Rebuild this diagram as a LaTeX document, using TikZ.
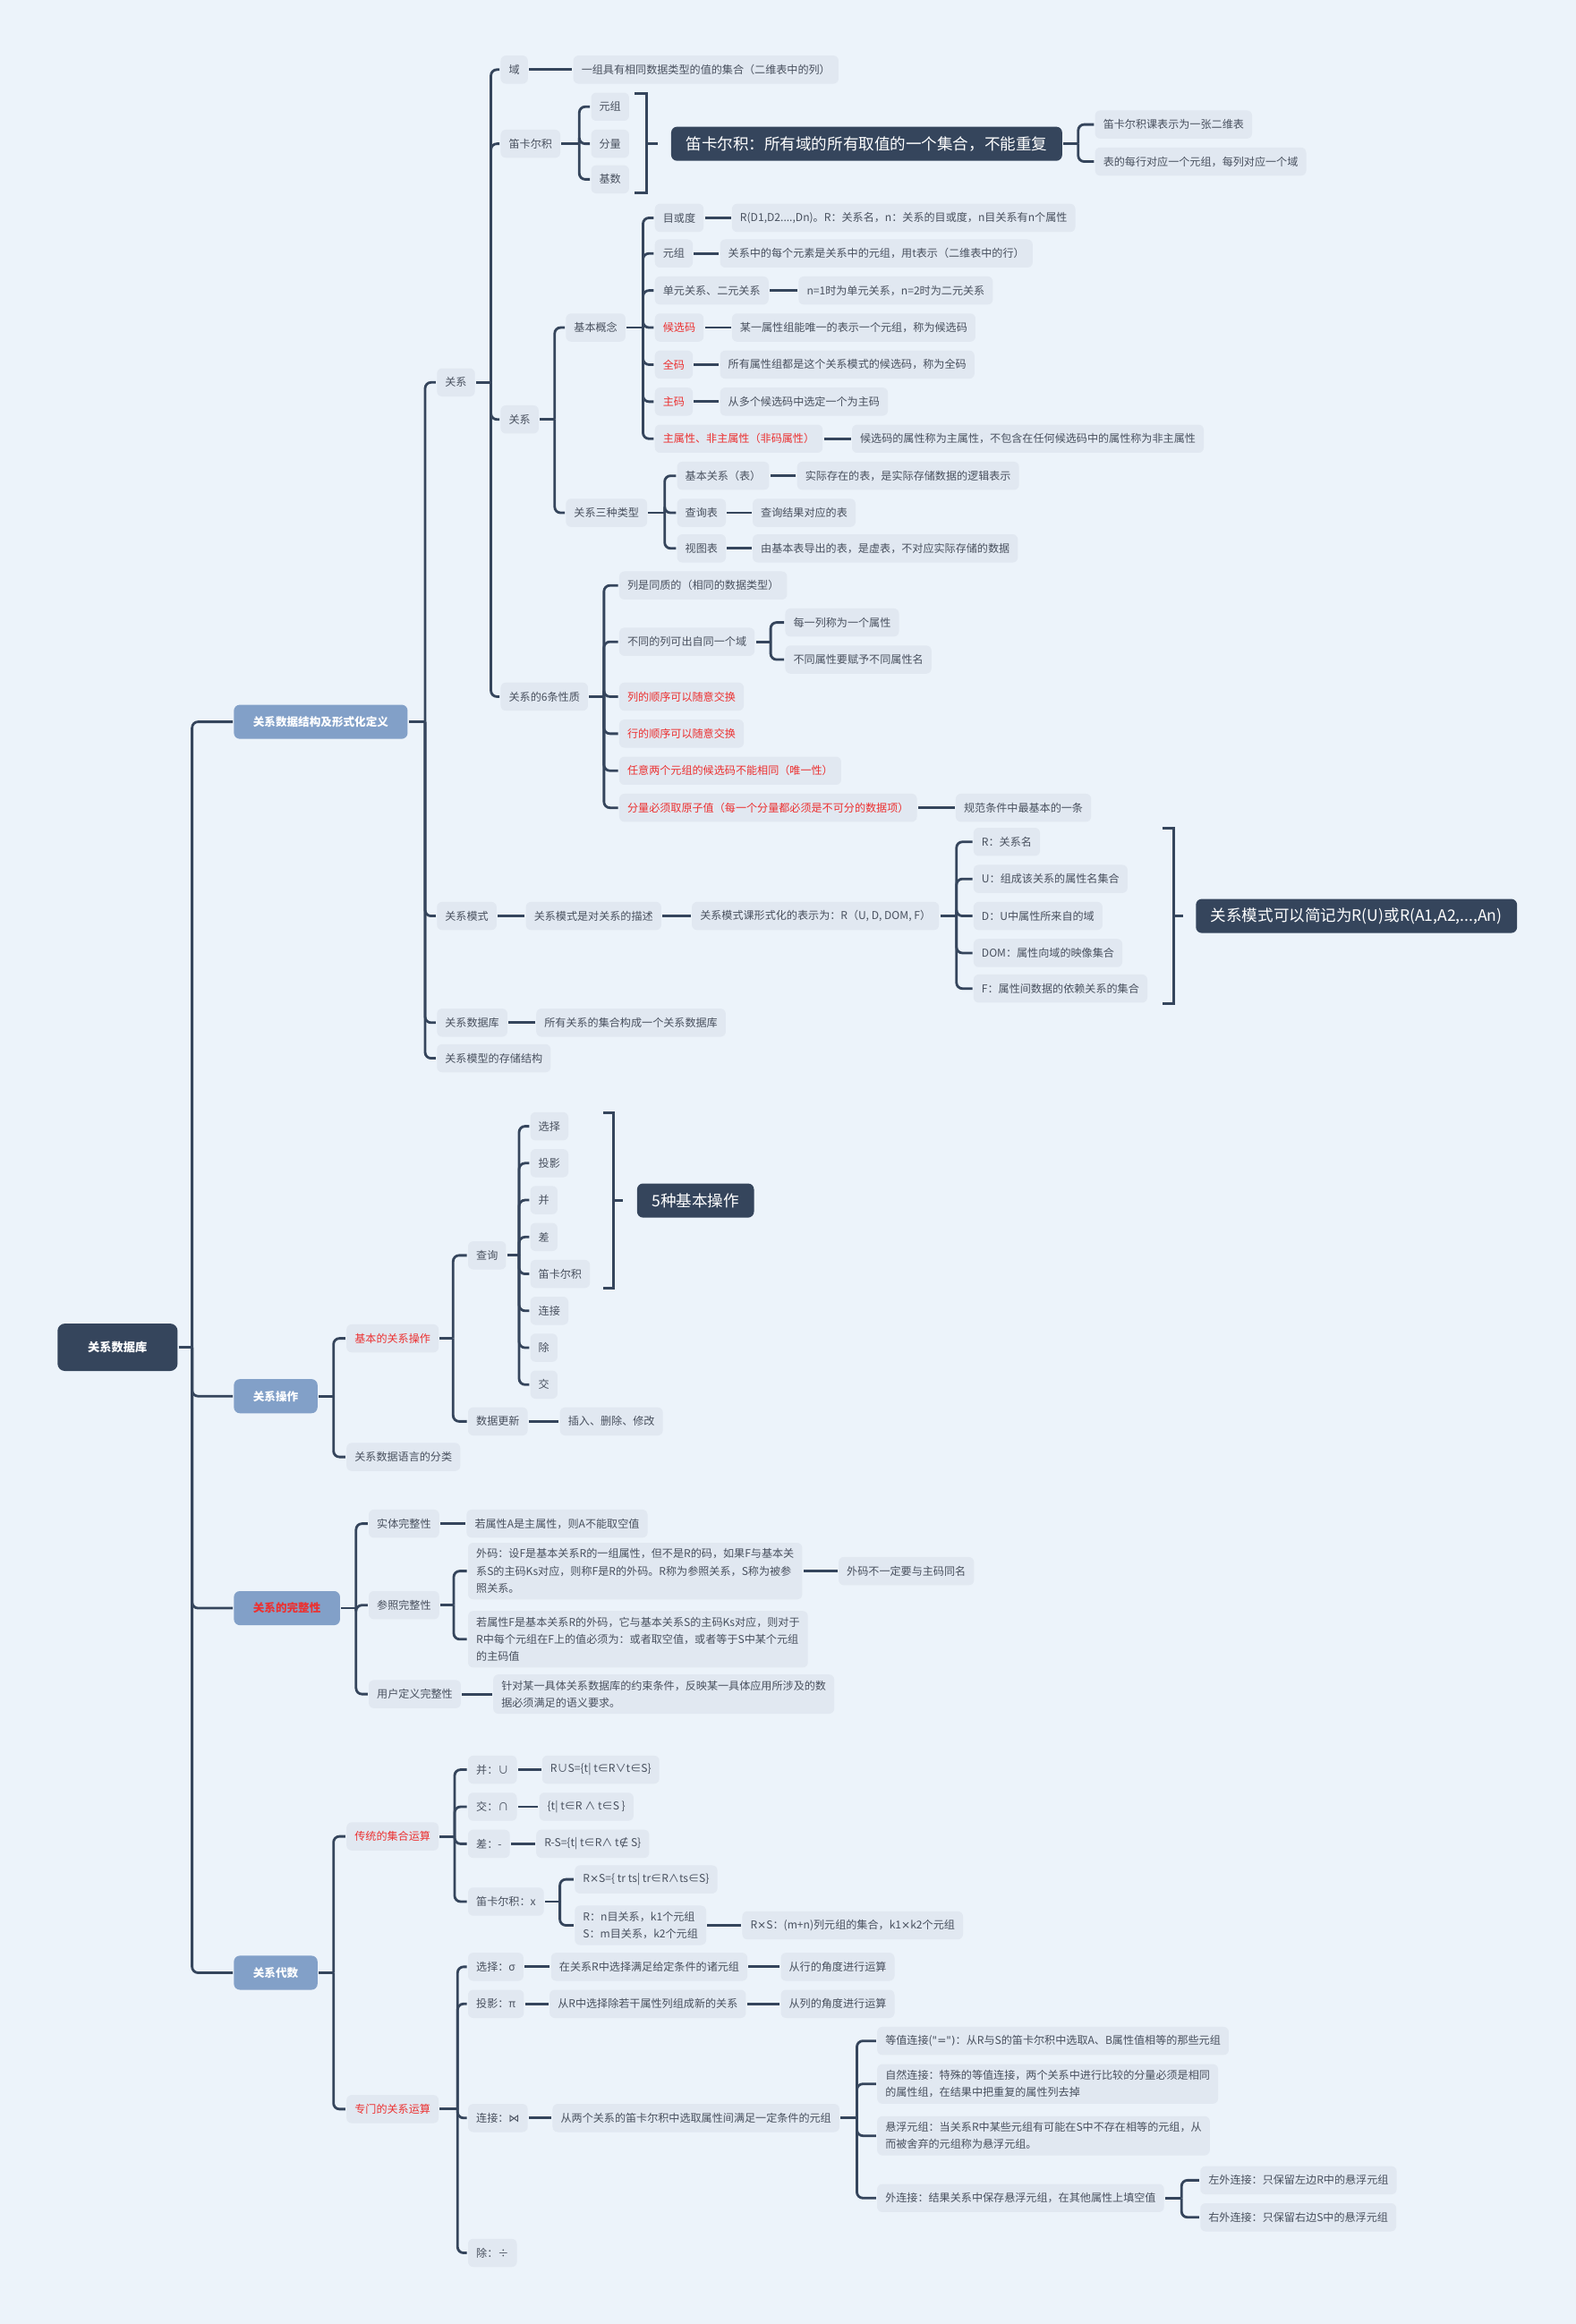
\documentclass[tikz,border=0pt]{standalone}
\usepackage{fontspec}
\setmainfont{Noto Sans CJK SC}
\newfontfamily\symfont{DejaVu Sans}

\definecolor{bg}{RGB}{236,243,250}
\definecolor{leaf}{RGB}{225,232,241}
\definecolor{ink}{RGB}{72,80,94}
\definecolor{navy}{RGB}{53,69,92}
\definecolor{steel}{RGB}{130,160,200}
\definecolor{hot}{RGB}{236,48,48}

\tikzset{
every picture/.style={
line width=1.6pt
},
leafbox/.style={fill=leaf, text=ink, rounded corners=3.5pt, inner xsep=5.5pt, inner ysep=4pt,
  minimum height=19pt, anchor=west, align=left, font=\fontsize{7.3}{11.7}\selectfont},
hotbox/.style={leafbox, text=hot},
topic/.style={fill=steel, text=white, rounded corners=4pt, inner xsep=13pt, minimum height=23pt,
  anchor=west, font=\bfseries\fontsize{7.6}{9}\selectfont},
rootbox/.style={fill=navy, text=white, rounded corners=5pt, minimum width=81pt, minimum height=32pt,
  anchor=west, font=\bfseries\fontsize{8}{9}\selectfont},
summary/.style={fill=navy, text=white, rounded corners=4pt, inner xsep=10pt, minimum height=23pt,
  anchor=west, font=\fontsize{10.6}{12}\selectfont},
link/.style={draw=navy, line width=1.7pt, rounded corners=4pt},
}

% parent, trunk offset, children
\newcommand\fanout[3]{%
  \draw[link] (#1.east) -- ([xshift=#2]#1.east);
  \foreach \kid in {#3}{\draw[link] ([xshift=#2]#1.east) |- (\kid.west);}
}
\newcommand\tms{{\symfont ×}}

\begin{document}
\begin{tikzpicture}[x=1pt,y=-1pt]
\useasboundingbox (0,0) rectangle (1063,1568);
\fill[bg] (0,0) rectangle (1063,1568);

% root and main topics
\node[rootbox] (db) at (38,909) {关系数据库};
\node[topic] (struct) at (157,487) {关系数据结构及形式化定义};
\node[topic] (ops) at (157,942) {关系操作};
\node[topic, text=hot] (integ) at (157,1085) {关系的完整性};
\node[topic] (alg) at (157,1331) {关系代数};
\begin{scope}[every path/.append style={line width=2.2pt}]
\fanout{db}{9pt}{struct,ops,integ,alg}
\end{scope}

%%% 关系数据结构及形式化定义
\node[leafbox] (rel) at (294,258) {关系};
\node[leafbox] (schema) at (294,618) {关系模式};
\node[leafbox] (rdb) at (294,690) {关系数据库};
\node[leafbox] (store) at (294,714) {关系模型的存储结构};
\fanout{struct}{11pt}{rel,schema,rdb,store}

\node[leafbox] (dom) at (337,47) {域};
\node[leafbox] (cart) at (337,97) {笛卡尔积};
\node[leafbox] (rel2) at (337,283) {关系};
\node[leafbox] (props) at (337,470) {关系的6条性质};
\fanout{rel}{10pt}{dom,cart,rel2,props}

\node[leafbox] (domdef) at (386,47) {一组具有相同数据类型的值的集合（二维表中的列）};
\draw[link] (dom) -- (domdef);

\foreach \n/\y/\t in {tup/72/元组, comp/97/分量, card/121/基数}{
  \node[leafbox] (\n) at (398,\y) {\t};
}
\fanout{cart}{12pt}{tup,comp,card}
\coordinate (cb1) at (428,63);
\coordinate (cb2) at (428,130);
\coordinate (cbm) at (436,97);
\coordinate (cbs) at (444,97);
\draw[link, rounded corners=0pt] (cb1) -| (cbm) |- (cb2);
\draw[link] (cbm) -- (cbs);
\node[summary] (cartsum) at (452,97) {笛卡尔积：所有域的所有取值的一个集合，不能重复};
\node[leafbox] (cartA) at (738,84) {笛卡尔积课表示为一张二维表};
\node[leafbox] (cartB) at (738,109) {表的每行对应一个元组，每列对应一个域};
\fanout{cartsum}{10pt}{cartA,cartB}

% 基本概念 / 关系三种类型
\node[leafbox] (basic) at (381,221) {基本概念};
\node[leafbox] (kinds) at (381,346) {关系三种类型};
\fanout{rel2}{10pt}{basic,kinds}

\foreach \n/\y/\s/\t/\dx/\d in {
  c1/147/leafbox/目或度/493/{R(D1,D2....,Dn)。R：关系名，n：关系的目或度，n目关系有n个属性},
  c2/171/leafbox/元组/485/{关系中的每个元素是关系中的元组，用t表示（二维表中的行）},
  c3/196/leafbox/单元关系、二元关系/538/{n=1时为单元关系，n=2时为二元关系},
  c4/221/hotbox/候选码/493/{某一属性组能唯一的表示一个元组，称为候选码},
  c5/246/hotbox/全码/485/{所有属性组都是这个关系模式的候选码，称为全码},
  c6/271/hotbox/主码/485/{从多个候选码中选定一个为主码},
  c7/296/hotbox/主属性、非主属性（非码属性）/574/{候选码的属性称为主属性，不包含在任何候选码中的属性称为非主属性}}{
  \node[\s] (\n) at (441,\y) {\t};
  \node[leafbox] (\n d) at (\dx,\y) {\d};
  \draw[link] (\n) -- (\n d);
}
\fanout{basic}{11pt}{c1,c2,c3,c4,c5,c6,c7}

\foreach \n/\y/\t/\dx/\d in {
  k1/321/基本关系（表）/537/{实际存在的表，是实际存储数据的逻辑表示},
  k2/346/查询表/507/{查询结果对应的表},
  k3/370/视图表/507/{由基本表导出的表，是虚表，不对应实际存储的数据}}{
  \node[leafbox] (\n) at (456,\y) {\t};
  \node[leafbox] (\n d) at (\dx,\y) {\d};
  \draw[link] (\n) -- (\n d);
}
\fanout{kinds}{11pt}{k1,k2,k3}

% 关系的6条性质
\node[leafbox] (p1) at (417,395) {列是同质的（相同的数据类型）};
\node[leafbox] (p2) at (417,433) {不同的列可出自同一个域};
\node[hotbox] (p3) at (417,470) {列的顺序可以随意交换};
\node[hotbox] (p4) at (417,495) {行的顺序可以随意交换};
\node[hotbox] (p5) at (417,520) {任意两个元组的候选码不能相同（唯一性）};
\node[hotbox] (p6) at (417,545) {分量必须取原子值（每一个分量都必须是不可分的数据项）};
\fanout{props}{10pt}{p1,p2,p3,p4,p5,p6}
\node[leafbox] (p2a) at (529,420) {每一列称为一个属性};
\node[leafbox] (p2b) at (529,445) {不同属性要赋予不同属性名};
\fanout{p2}{10pt}{p2a,p2b}
\node[leafbox] (p6a) at (644,545) {规范条件中最基本的一条};
\draw[link] (p6) -- (p6a);

% 关系模式
\node[leafbox] (sdesc) at (354,618) {关系模式是对关系的描述};
\node[leafbox] (sform) at (466,618) {关系模式课形式化的表示为：R（U, D, DOM, F）};
\draw[link] (schema) -- (sdesc);
\draw[link] (sdesc) -- (sform);
\foreach \n/\y/\t in {s1/568/R：关系名, s2/593/U：组成该关系的属性名集合, s3/618/D：U中属性所来自的域,
  s4/643/DOM：属性向域的映像集合, s5/667/F：属性间数据的依赖关系的集合}{
  \node[leafbox] (\n) at (656,\y) {\t};
}
\fanout{sform}{11pt}{s1,s2,s3,s4,s5}
\coordinate (sb1) at (784,559);
\coordinate (sb2) at (784,677);
\coordinate (sbm) at (792,618);
\coordinate (sbs) at (798,618);
\draw[link, rounded corners=0pt] (sb1) -| (sbm) |- (sb2);
\draw[link] (sbm) -- (sbs);
\node[summary] (schsum) at (806,618) {关系模式可以简记为R(U)或R(A1,A2,...,An)};

\node[leafbox] (rdbdef) at (361,690) {所有关系的集合构成一个关系数据库};
\draw[link] (rdb) -- (rdbdef);

%%% 关系操作
\node[hotbox] (basicops) at (233,903) {基本的关系操作};
\node[leafbox] (lang) at (233,983) {关系数据语言的分类};
\fanout{ops}{10pt}{basicops,lang}
\node[leafbox] (query) at (315,847) {查询};
\node[leafbox] (upd) at (315,959) {数据更新};
\fanout{basicops}{9pt}{query,upd}
\node[leafbox] (upddef) at (377,959) {插入、删除、修改};
\draw[link] (upd) -- (upddef);
\foreach \t [count=\i] in {选择,投影,并,差,笛卡尔积,连接,除,交}{
  \node[leafbox] (q\i) at (357,{735+24.9*\i}) {\t};
}
\fanout{query}{8pt}{q1,q2,q3,q4,q5,q6,q7,q8}
\coordinate (qb1) at (407,751);
\coordinate (qb2) at (407,869);
\coordinate (qbm) at (414,810);
\coordinate (qbs) at (420,810);
\draw[link, rounded corners=0pt] (qb1) -| (qbm) |- (qb2);
\draw[link] (qbm) -- (qbs);
\node[summary] (qsum) at (429,810) {5种基本操作};

%%% 关系的完整性
\node[leafbox] (ent) at (248,1028) {实体完整性};
\node[leafbox] (refi) at (248,1083) {参照完整性};
\node[leafbox] (user) at (248,1143) {用户定义完整性};
\fanout{integ}{10pt}{ent,refi,user}
\node[leafbox] (entdef) at (314,1028) {若属性A是主属性，则A不能取空值};
\draw[link] (ent) -- (entdef);
\node[leafbox] (fk1) at (315,1060) {外码：设F是基本关系R的一组属性，但不是R的码，如果F与基本关\\
  系S的主码Ks对应，则称F是R的外码。R称为参照关系，S称为被参\\照关系。};
\node[leafbox] (fk2) at (315,1106) {若属性F是基本关系R的外码，它与基本关系S的主码Ks对应，则对于\\
  R中每个元组在F上的值必须为：或者取空值，或者等于S中某个元组\\的主码值};
\fanout{refi}{9pt}{fk1,fk2}
\node[leafbox] (fk1a) at (565,1060) {外码不一定要与主码同名};
\draw[link] (fk1) -- (fk1a);
\node[leafbox] (userdef) at (332,1143) {针对某一具体关系数据库的约束条件，反映某一具体应用所涉及的数\\
  据必须满足的语义要求。};
\draw[link] (user) -- (userdef);

%%% 关系代数
\node[hotbox] (trad) at (233,1239) {传统的集合运算};
\node[hotbox] (spec) at (233,1423) {专门的关系运算};
\fanout{alg}{10pt}{trad,spec}

\foreach \n/\y/\t/\dx/\d in {
  un/1194/{并：∪}/365/{R∪S=\{t| t∈R∨t∈S\}},
  in/1219/{交：∩}/363/{\{t| t∈R ∧ t∈S \}},
  df/1244/{差：-}/361/{R-S=\{t| t∈R∧ t{\symfont ∉} S\}}}{
  \node[leafbox] (\n) at (315,\y) {\t};
  \node[leafbox] (\n d) at (\dx,\y) {\d};
  \draw[link] (\n) -- (\n d);
}
\node[leafbox] (cp) at (315,1283) {笛卡尔积：x};
\fanout{trad}{10pt}{un,in,df,cp}
\node[leafbox] (cpa) at (387,1268) {R\tms S=\{ tr ts| tr∈R∧ts∈S\}};
\node[leafbox] (cpb) at (387,1299) {R：n目关系，k1个元组\\S：m目关系，k2个元组};
\fanout{cp}{10pt}{cpa,cpb}
\node[leafbox] (cpc) at (500,1299) {R\tms S：(m+n)列元组的集合，k1\tms k2个元组};
\draw[link] (cpb) -- (cpc);

\node[leafbox] (sel) at (315,1327) {选择：σ};
\node[leafbox] (proj) at (315,1352) {投影：π};
\node[leafbox] (join) at (315,1429) {连接：{\symfont ⋈}};
\node[leafbox] (div) at (315,1520) {除：÷};
\fanout{spec}{12pt}{sel,proj,join,div}
\node[leafbox] (seld) at (371,1327) {在关系R中选择满足给定条件的诸元组};
\node[leafbox] (sele) at (526,1327) {从行的角度进行运算};
\draw[link] (sel) -- (seld);
\draw[link] (seld) -- (sele);
\node[leafbox] (projd) at (370,1352) {从R中选择除若干属性列组成新的关系};
\node[leafbox] (proje) at (526,1352) {从列的角度进行运算};
\draw[link] (proj) -- (projd);
\draw[link] (projd) -- (proje);
\node[leafbox] (joind) at (372,1429) {从两个关系的笛卡尔积中选取属性间满足一定条件的元组};
\draw[link] (join) -- (joind);

\node[leafbox] (j1) at (591,1377) {等值连接({\symfont "=")}：从R与S的笛卡尔积中选取A、B属性值相等的那些元组};
\node[leafbox] (j2) at (591,1406) {自然连接：特殊的等值连接，两个关系中进行比较的分量必须是相同\\
  的属性组，在结果中把重复的属性列去掉};
\node[leafbox] (j3) at (591,1441) {悬浮元组：当关系R中某些元组有可能在S中不存在相等的元组，从\\
  而被舍弃的元组称为悬浮元组。};
\node[leafbox] (j4) at (591,1483) {外连接：结果关系中保存悬浮元组，在其他属性上填空值};
\fanout{joind}{11pt}{j1,j2,j3,j4}
\node[leafbox] (j4a) at (809,1471) {左外连接：只保留左边R中的悬浮元组};
\node[leafbox] (j4b) at (809,1496) {右外连接：只保留右边S中的悬浮元组};
\fanout{j4}{11pt}{j4a,j4b}
\end{tikzpicture}
\end{document}
